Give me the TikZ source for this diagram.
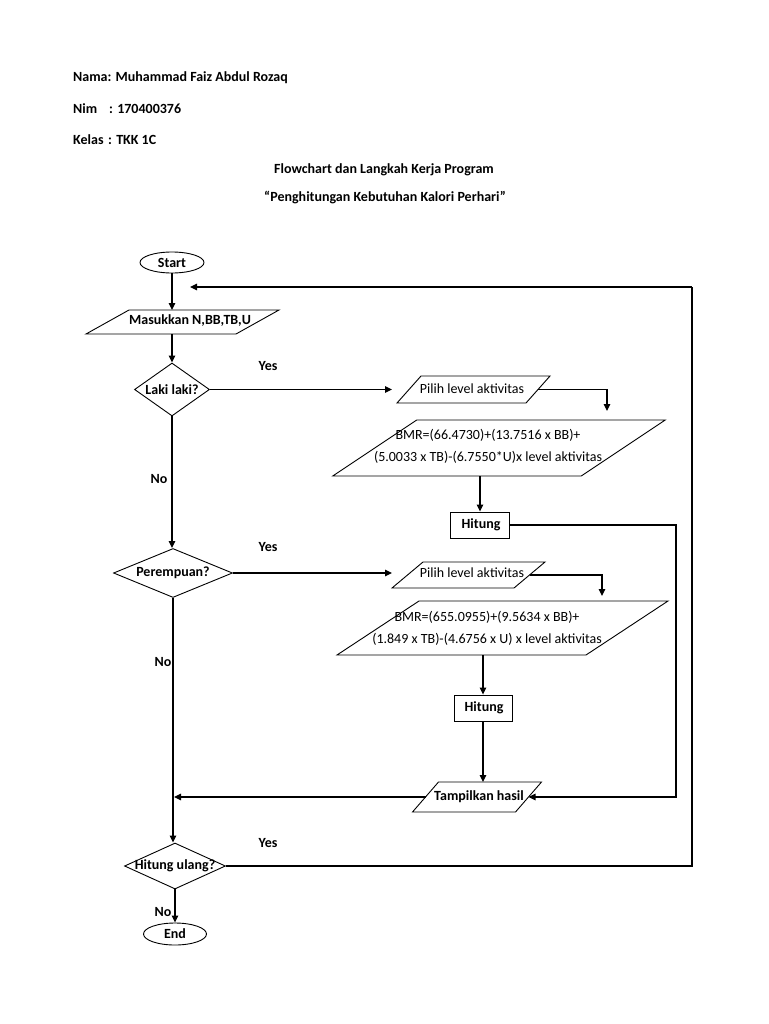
\documentclass[tikz,border=0pt]{standalone}
\usepackage{fontspec}
\setmainfont{Carlito}
\usetikzlibrary{shapes.geometric,arrows.meta,calc}
\newcommand{\pgram}[6]{%
  \node[minimum width=#4, minimum height=#5, inner sep=0, outer sep=0] (#1) at (#2,#3) {};
  \draw[shapeline] ([xshift={-(#6)/2}]#1.south west) -- ([xshift={-(#6)/2}]#1.south east) -- ([xshift={(#6)/2}]#1.north east) -- ([xshift={(#6)/2}]#1.north west) -- cycle;
}
\begin{document}
\begin{tikzpicture}[x=1pt,y=-1pt,
  reg/.style={font=\fontsize{14}{17}\selectfont, inner sep=0},
  bld/.style={font=\fontsize{14}{17}\selectfont\bfseries, inner sep=0},
  hdr/.style={font=\fontsize{14}{17}\selectfont\bfseries, inner sep=0},
  shapeline/.style={line width=0.9pt},
  conn/.style={line width=1.1pt},
  arr/.style={line width=1.1pt,-{Triangle[length=7pt,width=6.5pt]}},
  term/.style={ellipse, draw, line width=0.9pt, inner sep=0},
  dec/.style={diamond, draw, line width=0.9pt, inner sep=0},
  proc/.style={rectangle, draw, line width=0.9pt, inner sep=0}
]
\useasboundingbox[fill=white] (0,0) rectangle (768,1024);

% header
\node[hdr, anchor=west] (nama) at (73,78) {Nama: Muhammad Faiz Abdul Rozaq};
\node[hdr, anchor=west] (nim) at (73,109) {Nim};
\node[hdr, anchor=west] (nimv) at (109,109) {: 170400376};
\node[hdr, anchor=west] (kelas) at (73,140) {Kelas};
\node[hdr, anchor=west] (kelasv) at (108,140) {: TKK 1C};
\node[hdr] (title1) at (384,170) {Flowchart dan Langkah Kerja Program};
\node[hdr] (title2) at (385,198) {“Penghitungan Kebutuhan Kalori Perhari”};

% shapes
\node[term, minimum width=64, minimum height=21] (start) at (172,262.5) {};
\node[bld] (tstart) at (start) {Start};

\pgram{mas}{182.5}{322}{150}{24}{43}
\node[bld] (tmas) at (190,321) {Masukkan N,BB,TB,U};

\node[dec, minimum width=75, minimum height=53] (laki) at (172,389.5) {};
\node[bld] (tlaki) at (laki) {Laki laki?};

\pgram{p1}{473.5}{389.5}{129}{27}{24}
\node[reg] (tp1) at (472,389) {Pilih level aktivitas};

\pgram{b1}{499}{448}{248.5}{56}{84}
\node[reg, align=center, font=\fontsize{14}{22}\selectfont] (tb1) at (488,446) {BMR=(66.4730)+(13.7516 x BB)+\\(5.0033 x TB)-(6.7550*U)x level aktivitas};

\node[proc, minimum width=59, minimum height=26] (h1) at (480,525) {};
\node[bld] (th1) at (481,525) {Hitung};

\node[dec, minimum width=119, minimum height=49] (per) at (173,573) {};
\node[bld] (tper) at (per) {Perempuan?};

\pgram{p2}{468.5}{575}{122}{26}{31}
\node[reg] (tp2) at (472,573) {Pilih level aktivitas};

\pgram{b2}{502.5}{628}{249}{54}{82}
\node[reg, align=center, font=\fontsize{14}{22}\selectfont] (tb2) at (487,628) {BMR=(655.0955)+(9.5634 x BB)+\\(1.849 x TB)-(4.6756 x U) x level aktivitas};

\node[proc, minimum width=58, minimum height=26] (h2) at (483,708) {};
\node[bld] (th2) at (484,708) {Hitung};

\pgram{tp}{477}{797}{103}{30}{26}
\node[bld] (ttp) at (479,797) {Tampilkan hasil};

\node[dec, minimum width=101, minimum height=46] (hu) at (175,866) {};
\node[bld] (thu) at (hu) {Hitung ulang?};

\node[term, minimum width=63, minimum height=22] (end) at (175,934) {};
\node[bld] (tend) at (end) {End};

% labels
\node[bld] (y1) at (268,366) {Yes};
\node[bld] (y2) at (268,547) {Yes};
\node[bld] (y3) at (268,843) {Yes};
\node[bld] (n1) at (159,479) {No};
\node[bld] (n2) at (163,662) {No};
\node[bld] (n3) at (163,912) {No};

% coordinates
\coordinate (a1) at (392,389.5);
\coordinate (a2) at (392,573);
\coordinate (c1) at (607,411);
\coordinate (c2) at (602,596);
\coordinate (r1) at (676,525);
\coordinate (colp) at (174,797);
\coordinate (r2) at (692,866);
\coordinate (r3) at (692,287);
\coordinate (a0) at (190,287);

% connectors
\draw[arr] (start.south) -- (start.south |- mas.north);
\draw[arr] (laki.north |- mas.south) -- (laki.north);
\draw[arr] (laki.east) -- (a1);
\draw[arr] (p1.east) -| (c1);
\draw[arr] (h1.north |- b1.south) -- (h1.north);
\draw[arr] (h1.east) -- (r1) |- (tp.east);
\draw[arr] (laki.south) -- (laki.south |- per.north);
\draw[arr] (per.east) -- (a2);
\draw[arr] (p2.east) -| (c2);
\draw[arr] (h2.north |- b2.south) -- (h2.north);
\draw[arr] (h2.south) -- (h2.south |- tp.north);
\draw[arr] (tp.west) -- (colp);
\draw[arr] (per.south) -- (per.south |- hu.north);
\draw[conn] (hu.east) -- (r2) -- (r3);
\draw[arr] (r3) -- (a0);
\draw[arr] (hu.south) -- (end.north);
\end{tikzpicture}
\end{document}
